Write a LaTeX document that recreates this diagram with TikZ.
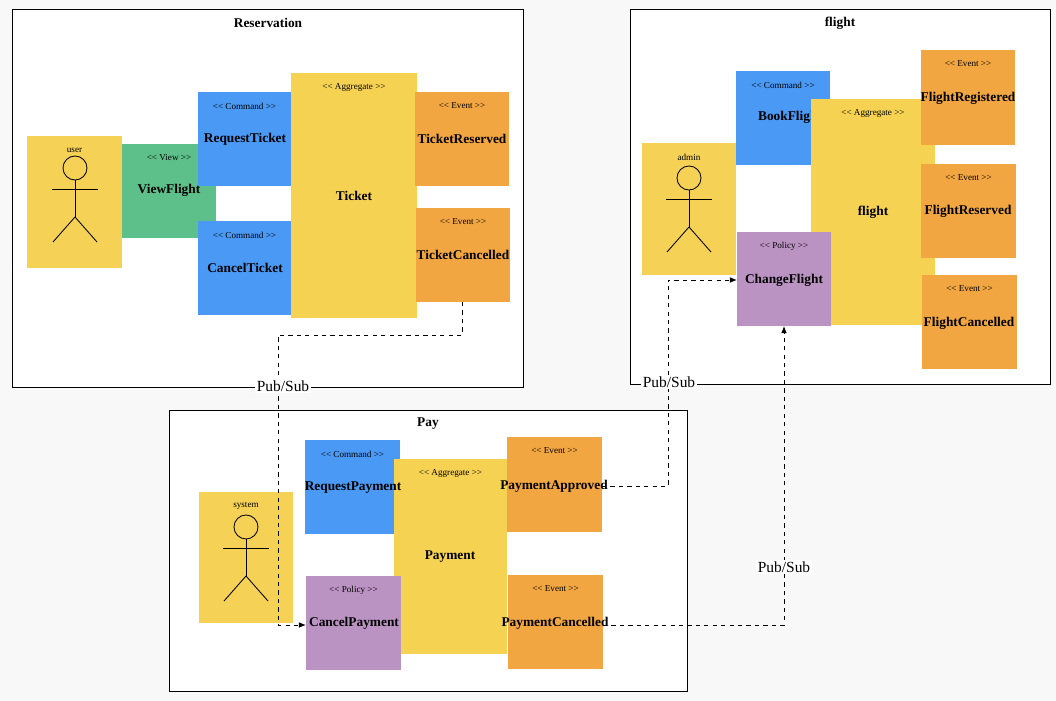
\documentclass[tikz,border=0pt]{standalone}
\usepackage{fontspec}
\setmainfont{Liberation Serif}
\usetikzlibrary{arrows.meta}
\definecolor{bg}{HTML}{F8F8F8}
\definecolor{stick}{HTML}{F5D155}
\definecolor{cmd}{HTML}{4A99F5}
\definecolor{evt}{HTML}{F2A641}
\definecolor{agg}{HTML}{F6D253}
\definecolor{pol}{HTML}{BB93C3}
\definecolor{view}{HTML}{5DBF8A}
\tikzset{
  ctx/.style={draw=black,fill=white,line width=0.6pt},
  tag/.style={font=\fontsize{6.5}{7}\selectfont},
  big/.style={font=\fontsize{9.5}{11}\selectfont\bfseries},
  title/.style={font=\fontsize{9.5}{11}\selectfont\bfseries},
  pubsub/.style={draw,dashed,line width=0.6pt,-{Latex[length=5pt,width=4pt]}},
  pslabel/.style={fill=white,inner sep=1pt,font=\fontsize{11}{12}\selectfont}
}
\newcommand{\actor}[2]{% x, y of head centre
  \draw[line width=0.6pt] (#1,#2) circle (12);
  \draw[line width=0.6pt] (#1,#2+12) -- (#1,#2+49);
  \draw[line width=0.6pt] (#1-23,#2+21) -- (#1+23,#2+21);
  \draw[line width=0.6pt] (#1,#2+49) -- (#1-22,#2+74);
  \draw[line width=0.6pt] (#1,#2+49) -- (#1+22,#2+74);
}
\newcommand{\card}[7]{% name, colour, x1,y1,x2,y2, tag
  \fill[#2] (#3,#4) rectangle (#5,#6);
  \coordinate (#1) at ({(#3+#5)/2},{(#4+#6)/2});
  \node[tag] (#1-tag) at ({(#3+#5)/2},#4+14) {#7};
}
\newcommand{\lt}{{<}{<}}
\newcommand{\gt}{{>}{>}}
\begin{document}
\begin{tikzpicture}[x=0.025cm,y=-0.025cm]
\fill[bg] (0,0) rectangle (1056,701);
\useasboundingbox (0,0) rectangle (1056,701);

% Reservation
\draw[ctx] (12,9) rectangle (523,387);
\node[title] (resT) at (268,23) {Reservation};
\card{user}{stick}{27}{136}{122}{268}{user}
\actor{75}{168}
\card{view}{view}{122}{144}{216}{238}{\lt{} View \gt}
\node[big] (viewT) at (169,190) {ViewFlight};
\card{reqT}{cmd}{198}{92}{291}{186}{\lt{} Command \gt}
\card{canT}{cmd}{198}{221}{291}{315}{\lt{} Command \gt}
\card{ticket}{agg}{291}{73}{417}{318}{\lt{} Aggregate \gt}
\node[big] (ticketT) at (354,196) {Ticket};
\card{tres}{evt}{415}{92}{509}{186}{\lt{} Event \gt}
\card{tcan}{evt}{416}{208}{510}{302}{\lt{} Event \gt}
\node[big] (reqTT) at (245,139) {RequestTicket};
\node[big] (canTT) at (245,268) {CancelTicket};
\node[big] (tresT) at (462,139) {TicketReserved};
\node[big] (tcanT) at (463,255) {TicketCancelled};
\coordinate (tcanB) at (462,302);

% flight
\draw[ctx] (630,9) rectangle (1050,384);
\node[title] (flT) at (840,23) {flight};
\card{admin}{stick}{642}{143}{736}{275}{admin}
\actor{689}{178}
\card{book}{cmd}{736}{71}{830}{165}{\lt{} Command \gt}
\node[big] (bookT) at (790,117) {BookFlight};
\card{flight}{agg}{811}{99}{935}{325}{\lt{} Aggregate \gt}
\node[big] (flightT) at (873,212) {flight};
\card{chg}{pol}{737}{232}{831}{326}{\lt{} Policy \gt}
\node[big] (chgT) at (784,280) {ChangeFlight};
\card{freg}{evt}{921}{50}{1015}{145}{\lt{} Event \gt}
\node[big] (fregT) at (968,98) {FlightRegistered};
\card{fres}{evt}{921}{164}{1016}{258}{\lt{} Event \gt}
\node[big] (fresT) at (968,211) {FlightReserved};
\card{fcan}{evt}{922}{275}{1017}{369}{\lt{} Event \gt}
\node[big] (fcanT) at (969,323) {FlightCancelled};

% Pay
\draw[ctx] (169,410) rectangle (687,691);
\node[title] (payT) at (428,424) {Pay};
\card{system}{stick}{199}{492}{293}{623}{system}
\actor{246}{527}
\card{reqP}{cmd}{305}{440}{400}{534}{\lt{} Command \gt}
\card{payment}{agg}{394}{459}{507}{654}{\lt{} Aggregate \gt}
\node[big] (paymentT) at (450,557) {Payment};
\card{canP}{pol}{306}{576}{401}{670}{\lt{} Policy \gt}
\card{pApp}{evt}{507}{437}{602}{532}{\lt{} Event \gt}
\card{pCan}{evt}{508}{575}{603}{669}{\lt{} Event \gt}
\node[big] (reqPT) at (353,488) {RequestPayment};
\node[big] (canPT) at (354,623) {CancelPayment};
\node[big] (pAppT) at (554,486) {PaymentApproved};
\node[big] (pCanT) at (555,623) {PaymentCancelled};

% Pub/Sub connectors
\coordinate (p1) at (462,335);
\coordinate (p2) at (278,335);
\coordinate (p3) at (278,625);
\coordinate (canPL) at (306,625);
\draw[pubsub] (tcanB) -- (p1) -- (p2) -- (p3) -- (canPL);
\node[pslabel] (ps1) at (283,386) {Pub/Sub};

\coordinate (q0) at (602,486);
\coordinate (q1) at (668,486);
\coordinate (q2) at (668,280);
\coordinate (chgL) at (737,280);
\draw[pubsub] (q0) -- (q1) -- (q2) -- (chgL);
\node[pslabel] (ps2) at (669,382) {Pub/Sub};

\coordinate (r0) at (603,625);
\coordinate (r1) at (784,625);
\coordinate (chgB) at (784,326);
\draw[pubsub] (r0) -- (r1) -- (chgB);
\node[pslabel] (ps3) at (784,567) {Pub/Sub};
\end{tikzpicture}
\end{document}
